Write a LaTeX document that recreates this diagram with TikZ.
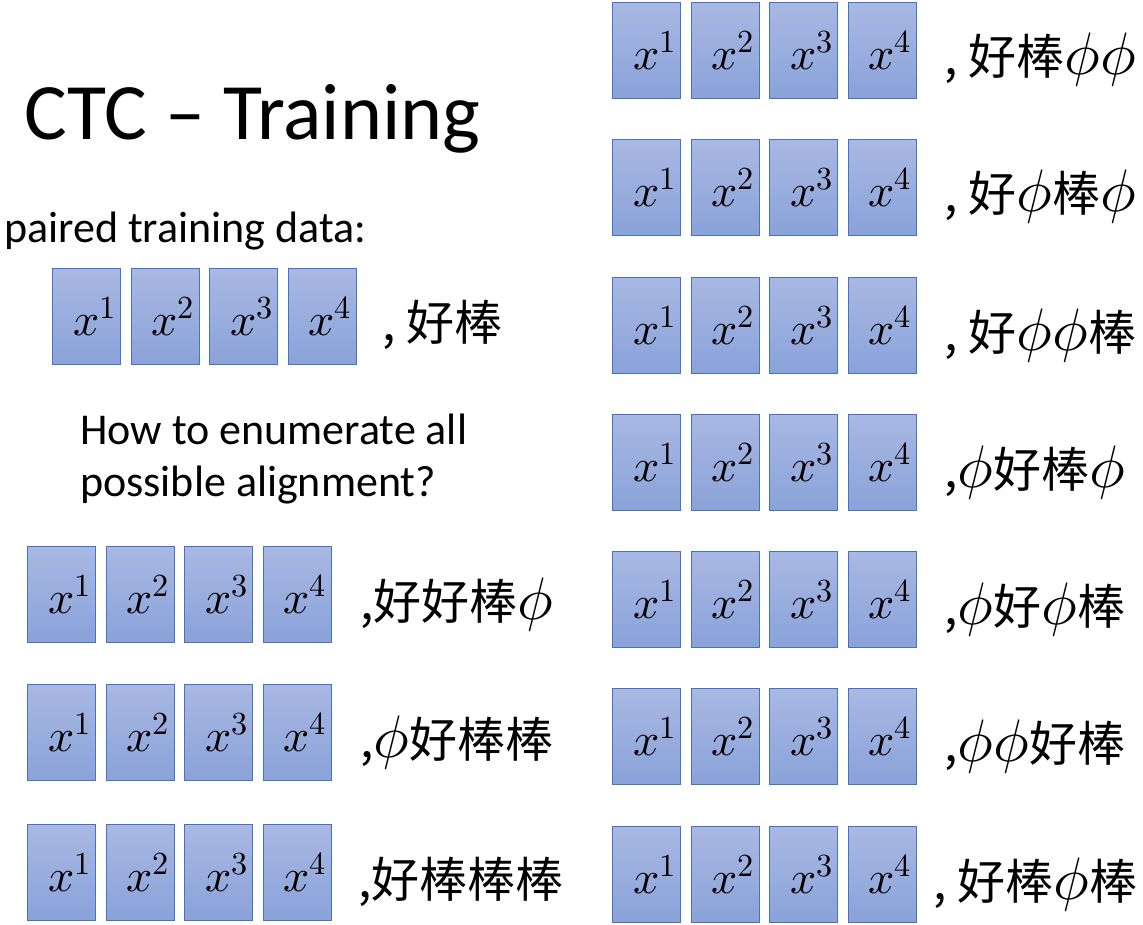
\documentclass[tikz,border=0pt]{standalone}
\usepackage{fontspec}
\usepackage{unicode-math}
\setmainfont{Carlito}
\setmathfont{Latin Modern Math}
\newfontfamily\cjk{Noto Sans CJK SC}
\usetikzlibrary{positioning}
\definecolor{boxtop}{HTML}{A9B8E3}
\definecolor{boxbot}{HTML}{8AA2D9}
\definecolor{boxline}{HTML}{4472C4}
\newcommand{\ph}{{\fontsize{60}{60}\selectfont$\phi$}}

\begin{document}
\begin{tikzpicture}[
        x=1pt, y=-1pt, % pixel coordinates, y grows downwards
        node distance=9.5pt,
        cell/.style={draw=boxline, line width=1pt, top color=boxtop, bottom color=boxbot,
            minimum width=68pt, minimum height=96pt, inner sep=0pt,
            font=\fontsize{46}{50}\selectfont}, % one acoustic frame
        lab/.style={anchor=base west, inner sep=0pt, font=\cjk\fontsize{48}{52}\selectfont}, % alignment
        txt/.style={anchor=base west, inner sep=0pt, align=left},
    ]
    \useasboundingbox (0,0) rectangle (1143,925);

    \node[txt, font=\fontsize{80}{84}\selectfont] (title) at (24,140) {CTC -- Training};
    \node[txt, font=\fontsize{44}{52}\selectfont] (paired) at (4,243) {paired training data:};
    \node[txt, font=\fontsize{44}{52}\selectfont] (question) at (80,496) {How to enumerate all\\possible alignment?};

    % frames x^1..x^4 followed by the label sequence
    \foreach \r/\x/\y/\lx/\seq in {
            p/52/268/382/{, 好棒},
            a/27/546/360/{,好好棒\ph},
            b/27/684/360/{,\ph{}好棒棒},
            c/27/824/358/{,好棒棒棒},
            d/612/2/944/{, 好棒\ph\ph},
            e/612/139/944/{, 好\ph{}棒\ph},
            f/612/277/944/{, 好\ph\ph{}棒},
            g/612/414/944/{,\ph{}好棒\ph},
            h/612/551/944/{,\ph{}好\ph{}棒},
            i/612/688/944/{,\ph\ph{}好棒},
            j/612/826/933/{, 好棒\ph{}棒}}{
        \node[cell, anchor=north west] (\r1) at (\x,\y) {\hspace{16pt}$x^1$};
        \node[cell, right=of \r1] (\r2) {\hspace{16pt}$x^2$};
        \node[cell, right=of \r2] (\r3) {\hspace{16pt}$x^3$};
        \node[cell, right=of \r3] (\r4) {\hspace{16pt}$x^4$};
        \node[lab] (\r-seq) at (\lx,\y+73) {\seq};
    }

\end{tikzpicture}
\end{document}
